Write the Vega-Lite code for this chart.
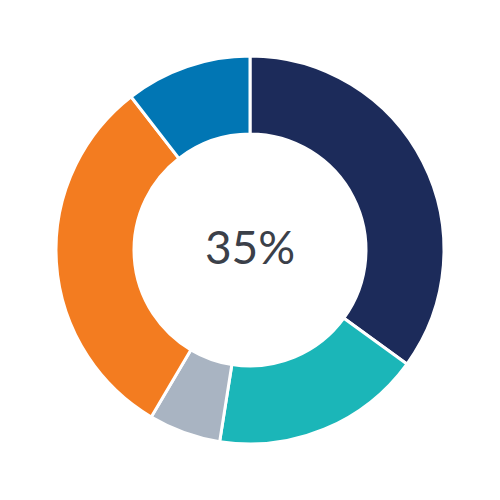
{
  "$schema": "https://vega.github.io/schema/vega-lite/v6.json",
  "width": 500,
  "height": 500,
  "padding": 0,
  "autosize": {"type": "fit", "contains": "padding"},
  "background": "white",
  "data": {
    "values": [
      {"category": "A", "value": 35, "order": 1},
      {"category": "B", "value": 17.5, "order": 2},
      {"category": "C", "value": 6, "order": 3},
      {"category": "D", "value": 31, "order": 4},
      {"category": "E", "value": 10.5, "order": 5}
    ]
  },
  "layer": [
    {
      "mark": {"type": "arc", "outerRadius": 194, "innerRadius": 116, "stroke": "white", "strokeWidth": 3},
      "encoding": {
        "theta": {"field": "value", "type": "quantitative", "stack": true},
        "order": {"field": "order", "type": "quantitative"},
        "color": {
          "field": "category",
          "type": "nominal",
          "legend": null,
          "scale": {
            "domain": ["A", "B", "C", "D", "E"],
            "range": ["#1c2b5a", "#1bb6b8", "#a9b4c2", "#f37c20", "#0176b4"]
          }
        }
      }
    },
    {
      "data": {"values": [{"label": "35%"}]},
      "mark": {"type": "text", "font": "Lato", "fontSize": 46, "color": "#3b4049", "baseline": "middle", "align": "center"},
      "encoding": {
        "text": {"field": "label", "type": "nominal"}
      }
    }
  ],
  "view": {"stroke": null}
}
